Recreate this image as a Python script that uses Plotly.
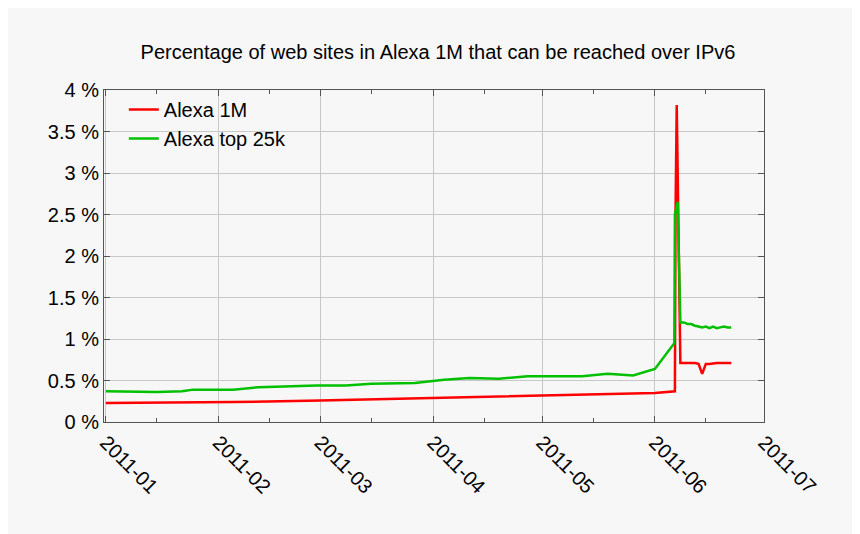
import plotly.graph_objects as go

# Alexa 1M
dates_1m = ["2011-01-01", "2011-02-05", "2011-03-01", "2011-04-01", "2011-05-01",
            "2011-06-01", "2011-06-06 12:00", "2011-06-06 16:00", "2011-06-07 00:00",
            "2011-06-07 12:00", "2011-06-08", "2011-06-10", "2011-06-12", "2011-06-13",
            "2011-06-14", "2011-06-15", "2011-06-16", "2011-06-18", "2011-06-20", "2011-06-22"]
vals_1m = [0.23, 0.24, 0.26, 0.29, 0.32,
           0.35, 0.37, 2.5, 3.82,
           2.0, 0.71, 0.71, 0.71, 0.70,
           0.58, 0.70, 0.70, 0.71, 0.71, 0.71]

# Alexa top 25k
dates_25k = ["2011-01-01", "2011-01-15", "2011-01-22", "2011-01-25", "2011-02-05",
             "2011-02-12", "2011-02-28", "2011-03-08", "2011-03-15", "2011-03-27",
             "2011-04-04", "2011-04-11", "2011-04-19", "2011-04-27", "2011-05-12",
             "2011-05-19", "2011-05-26", "2011-06-01", "2011-06-06 08:00",
             "2011-06-06 12:00", "2011-06-07 06:00", "2011-06-07 18:00", "2011-06-08",
             "2011-06-09", "2011-06-10", "2011-06-11", "2011-06-12", "2011-06-13",
             "2011-06-14", "2011-06-15", "2011-06-16", "2011-06-17", "2011-06-18",
             "2011-06-19", "2011-06-20", "2011-06-21", "2011-06-22"]
vals_25k = [0.37, 0.36, 0.37, 0.39, 0.39,
            0.42, 0.44, 0.44, 0.46, 0.47,
            0.51, 0.53, 0.52, 0.55, 0.55,
            0.58, 0.56, 0.64, 0.95,
            2.5, 2.65, 1.4, 1.2,
            1.2, 1.18, 1.18, 1.16, 1.15,
            1.14, 1.15, 1.13, 1.15, 1.13,
            1.14, 1.15, 1.14, 1.14]

y_ticks = [0, 0.5, 1, 1.5, 2, 2.5, 3, 3.5, 4]
y_labels = ["0 %", "0.5 %", "1 %", "1.5 %", "2 %", "2.5 %", "3 %", "3.5 %", "4 %"]

fig = go.Figure()
fig.add_scatter(x=dates_1m, y=vals_1m, mode="lines", name="Alexa 1M",
                line=dict(color="#ff0000", width=2.5))
fig.add_scatter(x=dates_25k, y=vals_25k, mode="lines", name="Alexa top 25k",
                line=dict(color="#00c000", width=2.5))

fig.update_layout(
    width=860, height=534,
    paper_bgcolor="#f7f7f7", plot_bgcolor="#f7f7f7",
    font=dict(family="Liberation Sans", size=20, color="black"),
    title=dict(text="Percentage of web sites in Alexa 1M that can be reached over IPv6",
               x=0.5, xanchor="center", y=0.93, font=dict(size=20)),
    margin=dict(l=96, r=104, t=82, b=120),
    showlegend=True,
    legend=dict(x=0.03, y=1.0, xanchor="left", yanchor="top",
                bgcolor="rgba(0,0,0,0)", font=dict(size=20)),
)
fig.update_xaxes(
    range=["2010-12-31 12:00", "2011-07-01"],
    tickvals=["2011-01-01", "2011-02-01", "2011-03-01", "2011-04-01",
              "2011-05-01", "2011-06-01", "2011-07-01"],
    tickformat="%Y-%m", tickangle=45,
    showgrid=True, gridcolor="#c8c8c8",
    showline=True, linecolor="#555", mirror="ticks",
    ticks="inside", ticklen=6, tickcolor="#555",
    minor=dict(dtick="M1", tick0="2011-01-15", ticks="inside", ticklen=4,
               showgrid=False, tickcolor="#555"),
)
fig.update_yaxes(
    range=[0, 4], tickvals=y_ticks, ticktext=y_labels,
    showgrid=True, gridcolor="#c8c8c8",
    showline=True, linecolor="#555", mirror="ticks",
    ticks="inside", ticklen=6, tickcolor="#555", zeroline=False,
)

fig.write_html("out.html")
